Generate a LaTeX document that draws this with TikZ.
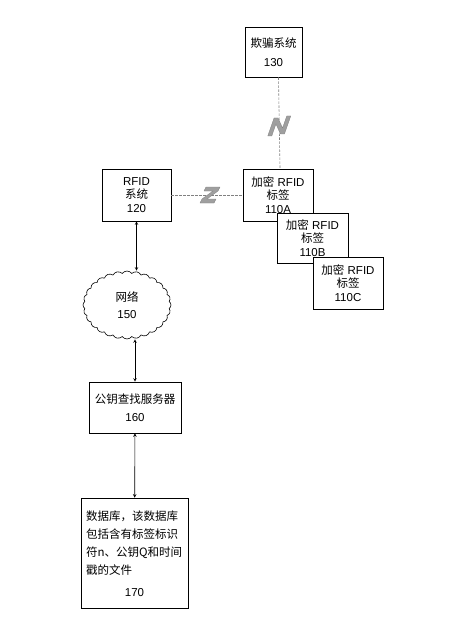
\documentclass[tikz,border=0pt]{standalone}
\usepackage{fontspec}
\setmainfont{Liberation Sans}
\newfontfamily\cjk{Noto Sans CJK SC}
\usetikzlibrary{shapes.symbols,calc}

\begin{document}
\begin{tikzpicture}[x=1pt, y=-1pt, every node/.style={font=\fontsize{11.5}{13.5}\selectfont}]

      \useasboundingbox (0,0) rectangle (474,631);

      \tikzstyle{Boite}=[rectangle, draw=black, line width=0.6pt, fill=white, inner sep=0pt, align=center];
      \tikzstyle{Lien}=[<->, >=stealth, line width=0.6pt];
      \tikzstyle{Radio}=[draw=gray, line width=0.6pt, dash pattern=on 2.5pt off 1.5pt];
      \tikzstyle{Eclair}=[fill=gray!75, draw=gray, line width=0.3pt];

        % attaque
        \node[Boite, minimum width=57pt, minimum height=50pt](Fraude) at (273.5, 52) {
          {\cjk 欺骗系统}\\[6pt]130};

        % lecteur et etiquettes
        \node[Boite, minimum width=69pt, minimum height=52pt](Lecteur) at (136.5, 195) {
          RFID\\{\cjk 系统}\\120};

        \node[Boite, minimum width=70pt, minimum height=52pt](TagA) at (278, 195) {
          {\cjk 加密} RFID\\{\cjk 标签}\\110A};
        \node[Boite, minimum width=71pt, minimum height=50pt](TagB) at (312.5, 238) {
          {\cjk 加密} RFID\\{\cjk 标签}\\110B};
        \node[Boite, minimum width=70pt, minimum height=52pt](TagC) at (348, 283) {
          {\cjk 加密} RFID\\{\cjk 标签}\\110C};

        % reseau
        \node[cloud, draw, line width=0.6pt, cloud puffs=28, cloud puff arc=110,
          cloud ignores aspect, minimum width=88pt, minimum height=68pt,
          inner sep=0pt, align=center](Reseau) at (127, 305) {
          {\cjk 网络}\\[3pt]150};

        % serveur et base
        \node[Boite, minimum width=92pt, minimum height=51pt](Serveur) at (135, 407.5) {
          {\cjk 公钥查找服务器}\\[5pt]160};

        \node[Boite, minimum width=107pt, minimum height=110pt](Base) at (134.5, 553) {
          \parbox{97pt}{ %
            \baselineskip=18pt
            \raggedright
            \vspace{1pt}
            {\cjk 数据库，该数据库\\包括含有标签标识\\符n、公钥Q和时间\\戳的文件}\par
            \vspace{4pt}
            \centering
            170
          }};

        \draw[Lien] (Lecteur.south) -- (Lecteur.south |- Reseau.north);
        \draw[Lien] (Serveur.north |- Reseau.south) -- (Serveur.north);
        \draw[Lien] (Serveur) -- (Base);

        % liens radio
        \draw[Radio] (Lecteur.east) -- (TagA.west);
        \draw[Radio] ([xshift=5pt]Fraude.south) -- ([xshift=2pt]TagA.north);

        \begin{scope}[shift={($(Lecteur.east)!0.5!(TagA.west)+(3,0)$)}, xslant=0.5]
          \filldraw[Eclair] (-8,-8) -- (6,-8) -- (6,-4) -- (-1,4) -- (8,4) -- (8,8)
            -- (-6,8) -- (-6,4) -- (1,-4) -- (-8,-4) -- cycle;
        \end{scope}
        \begin{scope}[shift={($([xshift=5pt]Fraude.south)!0.5!([xshift=2pt]TagA.north)+(0,3)$)}, xslant=0.35, rotate=90]
          \filldraw[Eclair] (-10,-8) -- (8,-8) -- (8,-4) -- (-2,4) -- (10,4) -- (10,8)
            -- (-8,8) -- (-8,4) -- (2,-4) -- (-10,-4) -- cycle;
        \end{scope}

    \end{tikzpicture}
\end{document}
